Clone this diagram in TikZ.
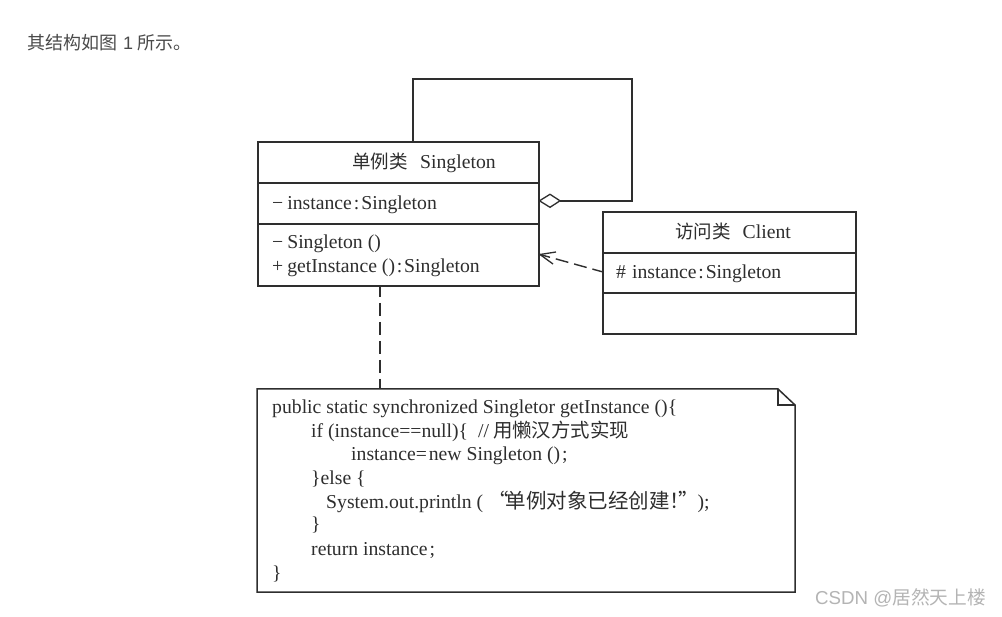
\documentclass[tikz,border=0pt]{standalone}
\usepackage{fontspec}
\setmainfont{Liberation Serif}
\newfontfamily\cjkface{Noto Sans CJK SC}
\newcommand{\cjk}{\cjkface\fontsize{18.5}{20}\selectfont}
\newcommand{\cjkb}{\cjkface\fontsize{19.4}{20}\selectfont}
\newcommand{\cjkc}{\cjkface\fontsize{20.5}{20}\selectfont}
\newfontfamily\hei{Liberation Sans}
\definecolor{ink}{HTML}{2E2E2E}
\definecolor{headgrey}{HTML}{4A4A4A}
\definecolor{markgrey}{HTML}{B4B4B4}
\tikzset{
  x=1pt,y=-1pt,
  box/.style={draw=ink,line width=1.5pt,fill=white,inner sep=0pt,outer sep=0pt,anchor=north west},
  txt/.style={anchor=base west,inner sep=0pt,text=ink,font=\fontsize{19.7}{20}\selectfont},
  link/.style={draw=ink,line width=1.5pt},
  dashlink/.style={link,line width=1.4pt,dash pattern=on 13pt off 6pt,dash phase=2pt},
}
\begin{document}
\begin{tikzpicture}
\useasboundingbox (0,0) rectangle (1002,617);
\fill[white] (0,0) rectangle (1002,617);
% classes
\node[box,minimum width=281pt,minimum height=41pt] (st) at (258,142) {};
\node[box,minimum width=281pt,minimum height=41pt] (sa) at (258,183) {};
\node[box,minimum width=281pt,minimum height=62pt] (so) at (258,224) {};
\node[box,minimum width=253pt,minimum height=41pt] (ct) at (603,212) {};
\node[box,minimum width=253pt,minimum height=40pt] (ca) at (603,253) {};
\node[box,minimum width=253pt,minimum height=41pt] (co) at (603,293) {};
% note
\coordinate (nw) at (257,389);
\coordinate (nf) at (778,389);
\coordinate (nr) at (795,405);
\coordinate (ne) at (795,592);
\coordinate (ns) at (257,592);
\coordinate (nc) at (778,405);
\draw[link,fill=white] (nw) -- (nf) -- (nr) -- (ne) -- (ns) -- cycle;
\draw[link] (nf) -- (nc) -- (nr);
% connectors
\coordinate (loopa) at (413,79);
\coordinate (loopb) at (632.2,79);
\coordinate (loopc) at (632.2,200.8);
\coordinate (dia) at (539.5,200.8);
\draw[link] (st.north west -| loopa) -- (loopa) -- (loopb) -- (loopc) -- (560,200.8);
\draw[link,line width=1.3pt,fill=white] (dia) -- (550,194.3) -- (560,200.8) -- (550,207.3) -- cycle;
\coordinate (depa) at (540,254.5);
\draw[dashlink] (ca.west) ++(0,-1) -- (depa);
\draw[link,line width=1.3pt] (556,252) -- (depa) -- (553,264);
\coordinate (ndl) at (380,389);
\draw[dashlink] (so.south west -| ndl) -- (ndl);
% texts
\node[txt] (t1) at (352,169) {{\cjk 单例类}\hspace{12.5pt}Singleton};
\node[txt] (t2) at (272,210) {−\hspace{4pt}instance\hspace{2pt}:\hspace{2pt}Singleton};
\node[txt] (t3) at (272,249) {−\hspace{4pt}Singleton ()};
\node[txt] (t4) at (272,273) {+\hspace{4pt}getInstance ()\hspace{1.7pt}:\hspace{2pt}Singleton};
\node[txt] (t5) at (675,239) {{\cjk 访问类}\hspace{12pt}Client};
\node[txt] (t6) at (616,279) {\#\hspace{6pt}instance\hspace{1.7pt}:\hspace{2pt}Singleton};
\node[txt] (c1) at (272,414) {public static synchronized Singletor getInstance ()\{};
\node[txt] (c2) at (311,438) {if (instance==null)\{\hspace{10pt}//\hspace{4pt}{\cjkb 用懒汉方式实现}};
\node[txt] (c3) at (351,461) {instance=\hspace{2pt}new Singleton ()\hspace{2pt};};
\node[txt] (c4) at (311,485) {\}else \{};
\node[txt] (c5) at (326,508) {System.out.println ( {\cjkc “\hspace{-3pt}单例对象已经创建！\hspace{-12pt}”}\hspace{-1pt});};
\node[txt] (c6) at (311,531) {\}};
\node[txt] (c7) at (311,555) {return instance\hspace{2pt};};
\node[txt] (c8) at (272,579) {\}};
\node[anchor=base west,inner sep=0pt,text=headgrey,font=\fontsize{18}{20}\selectfont\cjkface] (head) at (27,50) {其结构如图\hspace{6pt}{\hei 1}\hspace{4pt}所示。};
\node[anchor=base west,inner sep=0pt,text=markgrey,font=\fontsize{18.7}{20}\selectfont\hei] (mark) at (815,604) {CSDN @{\cjkface 居然天上楼}};
\end{tikzpicture}
\end{document}
